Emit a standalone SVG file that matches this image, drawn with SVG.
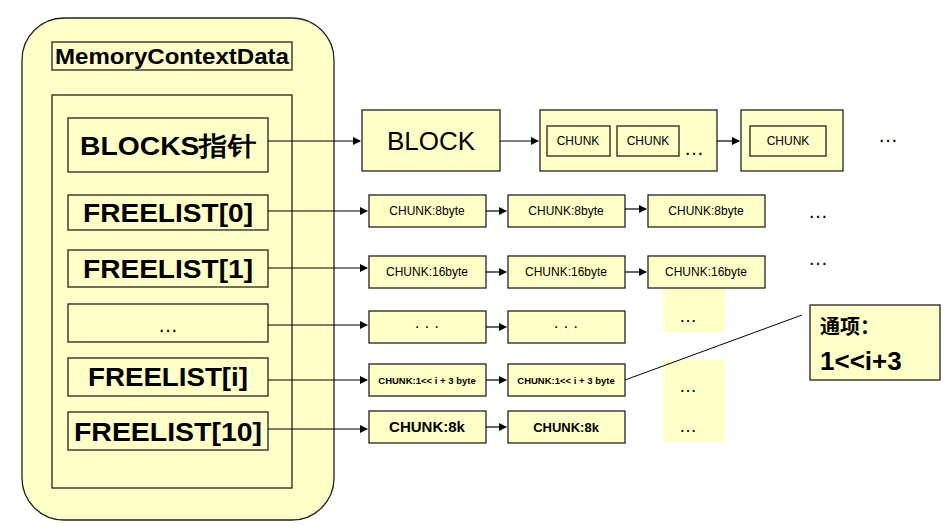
<svg xmlns="http://www.w3.org/2000/svg" width="950" height="527" viewBox="0 0 950 527">
<style>
.b{fill:#ffffc8;stroke:#222;stroke-width:1.3}
.t{font-family:"Liberation Sans",Arial,sans-serif;fill:#000;text-anchor:middle}
.f{font-size:26px;font-weight:bold}
.c{stroke:#000;stroke-width:1.2;fill:none;marker-end:url(#a)}
</style>
<defs><marker id="a" markerWidth="8" markerHeight="8" refX="7" refY="4" orient="auto" markerUnits="userSpaceOnUse"><path d="M0,0L8,4L0,8z" fill="#000"/></marker></defs>
<rect width="950" height="527" fill="#fff"/>
<g id="ctx">
<rect class="b" x="22" y="18" width="312" height="502" rx="42"/>
<rect class="b" x="52" y="42" width="240" height="28"/>
<text class="t" x="172" y="64" font-size="22" font-weight="bold" textLength="234" lengthAdjust="spacingAndGlyphs">MemoryContextData</text>
<rect class="b" x="52" y="95" width="240" height="393"/>
</g>
<g id="left">
<rect class="b" x="68" y="118" width="200" height="54"/><text class="t f" x="168" y="155" font-size="26" textLength="176" lengthAdjust="spacingAndGlyphs" font-family="Liberation Sans,Noto Sans CJK SC,sans-serif">BLOCKS指针</text>
<rect class="b" x="68" y="195" width="200" height="35"/><text class="t f" x="168" y="222" textLength="170" lengthAdjust="spacingAndGlyphs">FREELIST[0]</text>
<rect class="b" x="68" y="250" width="200" height="37"/><text class="t f" x="168" y="278" textLength="170" lengthAdjust="spacingAndGlyphs">FREELIST[1]</text>
<rect class="b" x="68" y="304" width="200" height="38"/><text class="t" x="168" y="332" font-size="20">…</text>
<rect class="b" x="68" y="358" width="200" height="38"/><text class="t f" x="168" y="386" textLength="160" lengthAdjust="spacingAndGlyphs">FREELIST[i]</text>
<rect class="b" x="68" y="412" width="200" height="38"/><text class="t f" x="168" y="441" textLength="188" lengthAdjust="spacingAndGlyphs">FREELIST[10]</text>
</g>
<g id="dotcol"><rect x="663" y="289" width="62" height="43" fill="#ffffc8"/><rect x="663" y="360" width="62" height="82" fill="#ffffc8"/>
<text class="t" x="688" y="322" font-size="18">…</text><text class="t" x="688" y="392" font-size="18">…</text><text class="t" x="688" y="432" font-size="18">…</text></g>
<g id="blocks">
<rect class="b" x="362" y="110" width="138" height="61"/><text class="t" x="431" y="150" font-size="26">BLOCK</text>
<rect class="b" x="540" y="110" width="177" height="61"/>
<rect class="b" x="547" y="126" width="63" height="30"/><text class="t" x="578" y="145" font-size="12">CHUNK</text>
<rect class="b" x="617" y="126" width="62" height="30"/><text class="t" x="648" y="145" font-size="12">CHUNK</text>
<text class="t" x="694" y="155" font-size="20">…</text>
<rect class="b" x="741" y="110" width="102" height="61"/>
<rect class="b" x="750" y="126" width="76" height="30"/><text class="t" x="788" y="145" font-size="12">CHUNK</text>
<text class="t" x="888" y="142" font-size="20">…</text>
</g>
<g id="rows">
<rect class="b" x="369" y="195" width="117" height="32"/><text class="t" x="427" y="215" font-size="12">CHUNK:8byte</text>
<rect class="b" x="508" y="195" width="117" height="32"/><text class="t" x="566" y="215" font-size="12">CHUNK:8byte</text>
<rect class="b" x="648" y="195" width="117" height="32"/><text class="t" x="706" y="215" font-size="12">CHUNK:8byte</text>
<text class="t" x="818" y="218" font-size="20">…</text>
<rect class="b" x="369" y="256" width="117" height="32"/><text class="t" x="427" y="276" font-size="12">CHUNK:16byte</text>
<rect class="b" x="508" y="256" width="117" height="32"/><text class="t" x="566" y="276" font-size="12">CHUNK:16byte</text>
<rect class="b" x="648" y="256" width="117" height="32"/><text class="t" x="706" y="276" font-size="12">CHUNK:16byte</text>
<text class="t" x="818" y="265" font-size="20">…</text>
<rect class="b" x="369" y="311" width="117" height="32"/><text class="t" x="427" y="332" font-size="16">· · ·</text>
<rect class="b" x="508" y="311" width="117" height="32"/><text class="t" x="566" y="332" font-size="16">· · ·</text>
<rect class="b" x="369" y="364" width="117" height="32"/><text class="t" x="427" y="384" font-size="9.5" font-weight="bold">CHUNK:1&lt;&lt; i + 3 byte</text>
<rect class="b" x="508" y="364" width="117" height="32"/><text class="t" x="566" y="384" font-size="9.5" font-weight="bold">CHUNK:1&lt;&lt; i + 3 byte</text>
<rect class="b" x="369" y="411" width="117" height="32"/><text class="t" x="427" y="432" font-size="15" font-weight="bold">CHUNK:8k</text>
<rect class="b" x="508" y="411" width="117" height="32"/><text class="t" x="566" y="432" font-size="13" font-weight="bold">CHUNK:8k</text>
</g>
<g id="note">
<rect class="b" x="810" y="305" width="130" height="75"/>
<text x="820" y="334" font-size="20" font-weight="bold" font-family="Noto Sans CJK SC,sans-serif">通项：</text>
<text x="820" y="370" font-size="26" font-weight="bold" font-family="Liberation Sans,Arial,sans-serif">1&lt;&lt;i+3</text>
</g>
<g id="connectors">
<path class="c" d="M268,141H360"/><path class="c" d="M500,141H538"/><path class="c" d="M717,141H739"/>
<path class="c" d="M268,211H367"/><path class="c" d="M486,211H506"/><path class="c" d="M625,209H646"/>
<path class="c" d="M268,268H367"/><path class="c" d="M486,272H506"/><path class="c" d="M625,272H646"/>
<path class="c" d="M268,325H367"/><path class="c" d="M486,327H506"/>
<path class="c" d="M268,380H367"/><path class="c" d="M486,380H506"/>
<path class="c" d="M268,429H367"/><path class="c" d="M486,427H506"/>
<path d="M625,380L802,315" stroke="#000" stroke-width="1" fill="none"/>
</g>
</svg>
